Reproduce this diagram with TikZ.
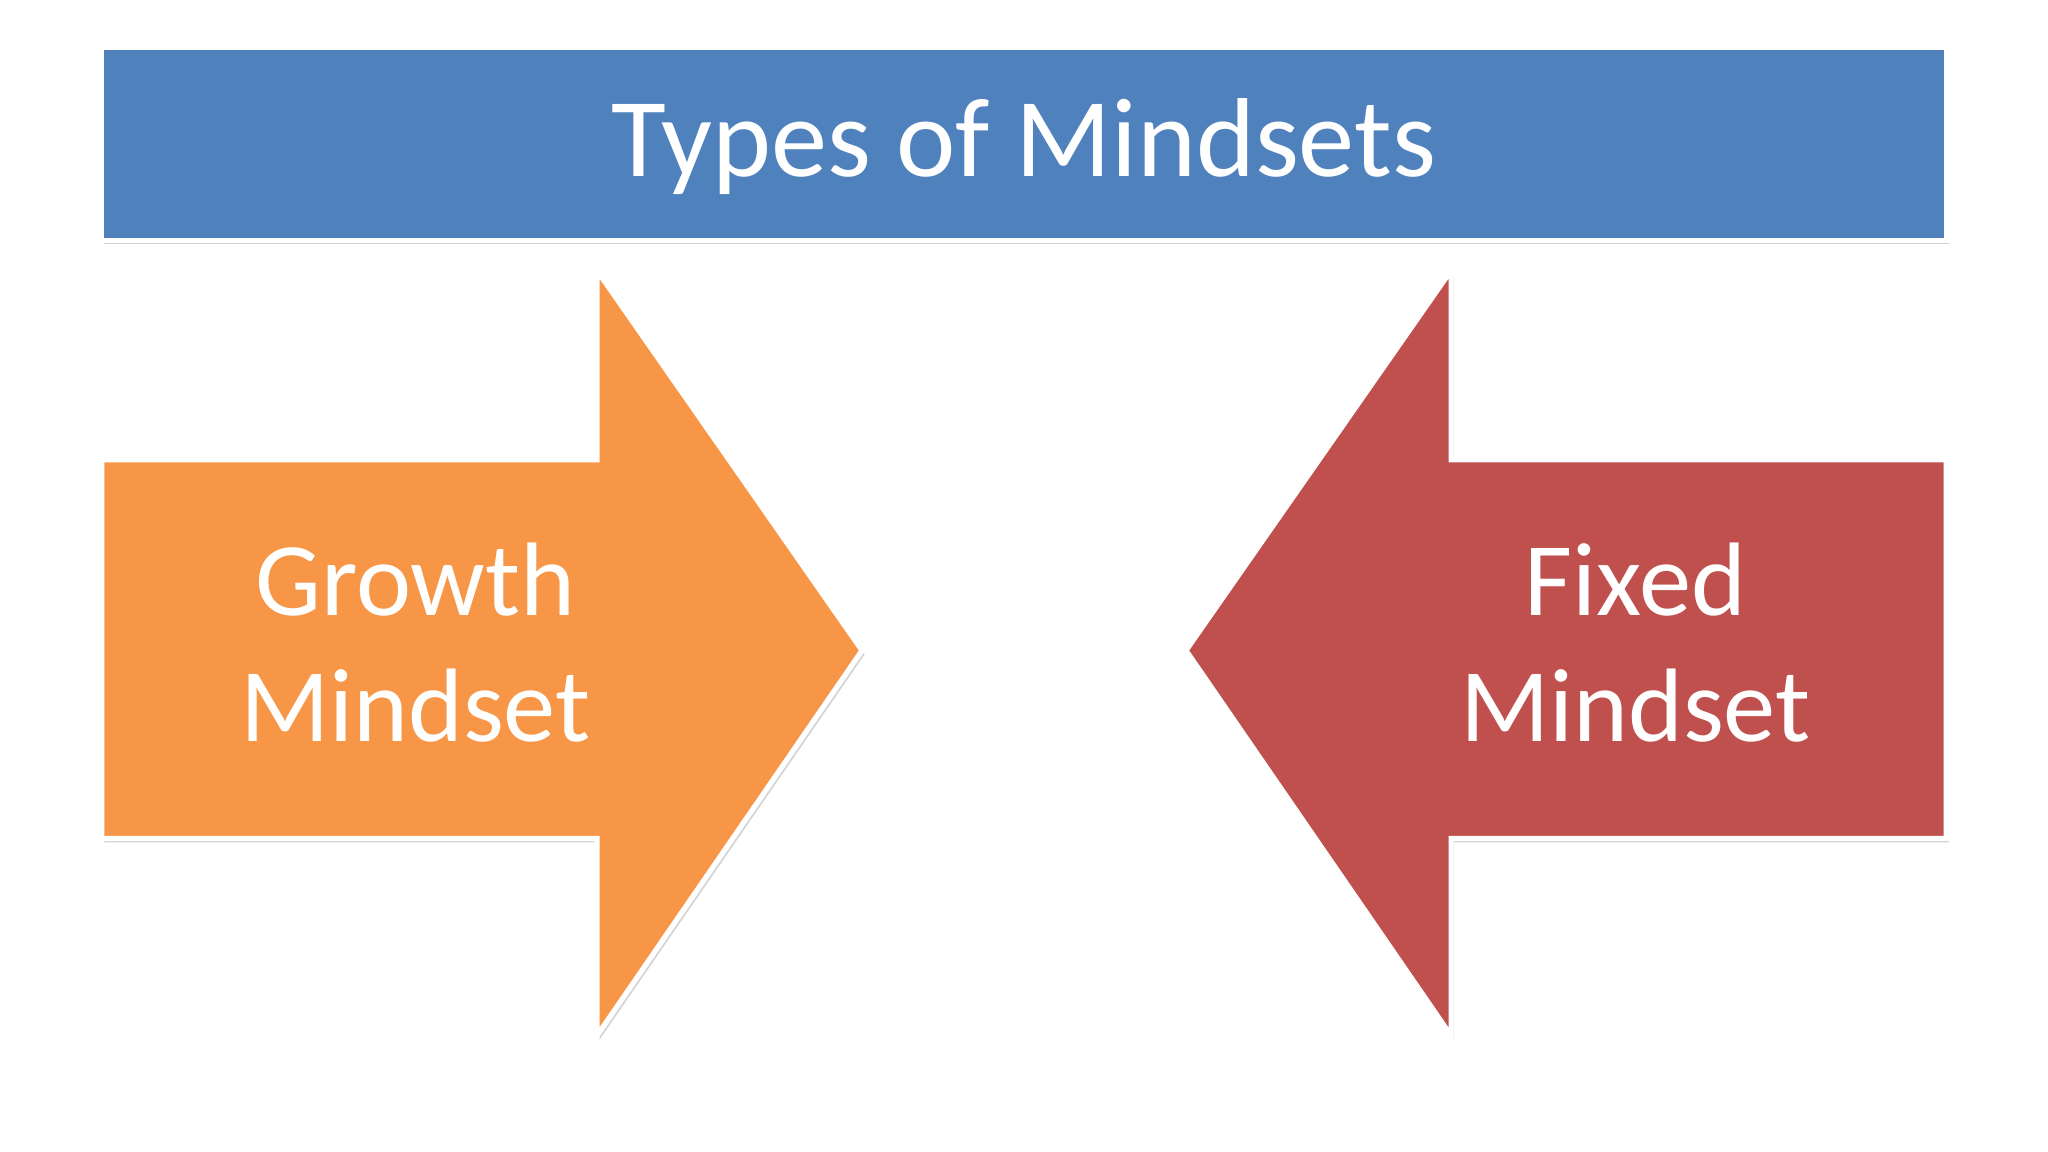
\documentclass[tikz,border=0pt]{standalone}
\usepackage{fontspec}
\setmainfont{Carlito}
\usetikzlibrary{shadows}
\definecolor{tblue}{HTML}{4F81BD}
\definecolor{torange}{HTML}{F79646}
\definecolor{tred}{HTML}{C0504D}
\tikzset{shape box/.style={draw=white,line width=4pt,line join=miter,drop shadow={shadow xshift=2pt,shadow yshift=-3pt,opacity=0.35}},
lbl/.style={text=white,font=\fontsize{80}{96}\selectfont,align=center}}
\begin{document}
\begin{tikzpicture}[x=1pt,y=-1pt]
\useasboundingbox[fill=white] (0,0) rectangle (1568,882);
\node[shape box,fill=tblue,minimum width=1412pt,minimum height=148pt,inner sep=0pt] (title) at (784,110) {};
\node[text=white,font=\fontsize{86}{100}\selectfont] (tt) at (784,112) {Types of Mindsets};
\path[shape box,fill=torange] (78,352) -- (457,352) -- (457,207) -- (660,498) -- (457,793) -- (457,642) -- (78,642) -- cycle;
\node[lbl] (g) at (318,492) {Growth\\Mindset};
\path[shape box,fill=tred] (1490,352) -- (1111,352) -- (1111,207) -- (908,498) -- (1111,793) -- (1111,642) -- (1490,642) -- cycle;
\node[lbl] (f) at (1252,492) {Fixed\\Mindset};
\end{tikzpicture}
\end{document}
